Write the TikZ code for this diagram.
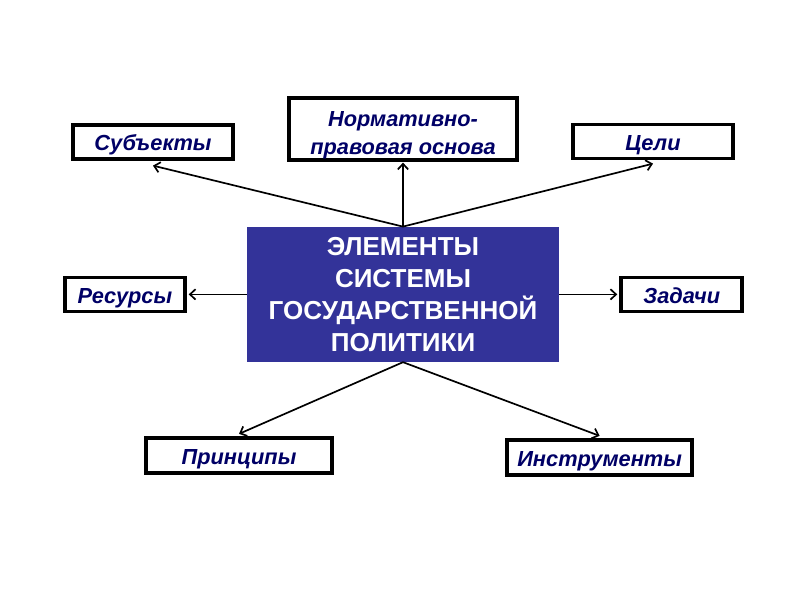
\documentclass[tikz,border=0pt]{standalone}
\usepackage{fontspec}
\setmainfont{Liberation Sans}
\usetikzlibrary{arrows.meta, positioning}
\definecolor{elemcolor}{RGB}{51,51,153}
\definecolor{labelcolor}{RGB}{0,0,102}
\tikzset{
    part/.style={rectangle, draw=black, line width=2.6pt, fill=white, inner sep=0pt,
        minimum height=0.85cm, align=center, text=labelcolor,
        text height=15pt, text depth=2.6pt,
        font=\fontsize{15.5}{20}\selectfont\bfseries\itshape},
    core/.style={rectangle, fill=elemcolor, inner sep=0pt, minimum width=7.8cm,
        minimum height=3.375cm, align=center, text=white,
        font=\fontsize{18.5}{22.8}\selectfont\bfseries},
    arrow/.style={-{Straight Barb[length=1.4mm, width=2.6mm]}, line width=1.2pt}
}

\begin{document}
\begin{tikzpicture}
    \useasboundingbox (0,0) rectangle (20,15);

    % centre
    \node[core] (elem) at (10.075,7.64) {ЭЛЕМЕНТЫ\\СИСТЕМЫ\\ГОСУДАРСТВЕННОЙ\\ПОЛИТИКИ};

    % upper row
    \node[part, minimum width=4cm] (subj) at (3.825,11.45) {Субъекты};
    \node[part, minimum width=5.7cm, minimum height=1.55cm, text height=39pt, text depth=3pt,
        above=1.62cm of elem] (norm) {Нормативно-\\правовая основа};
    \node[part, minimum width=4cm] (goal) at (16.325,11.46) {Цели};

    % middle row
    \node[part, minimum width=3cm, left=1.5cm of elem] (res) {Ресурсы};
    \node[part, minimum width=3.03cm, right=1.5cm of elem] (task) {Задачи};

    % lower row
    \node[part, minimum width=4.65cm, minimum height=0.875cm] (prin) at (5.975,3.61) {Принципы};
    \node[part, minimum width=4.63cm, minimum height=0.875cm] (tool) at (14.99,3.56) {Инструменты};

    \draw[arrow] (elem.north) -- ([yshift=-0.12cm]subj.south);
    \draw[arrow] (elem.north) -- ([yshift=-0.02cm]norm.south);
    \draw[arrow] (elem.north) -- ([yshift=-0.08cm]goal.south);
    \draw[arrow] (elem.west) -- ([xshift=0.05cm]res.east);
    \draw[arrow] (elem.east) -- ([xshift=-0.05cm]task.west);
    \draw[arrow] (elem.south) -- ([yshift=0.06cm]prin.north);
    \draw[arrow] (elem.south) -- ([yshift=0.06cm]tool.north);

\end{tikzpicture}
\end{document}
